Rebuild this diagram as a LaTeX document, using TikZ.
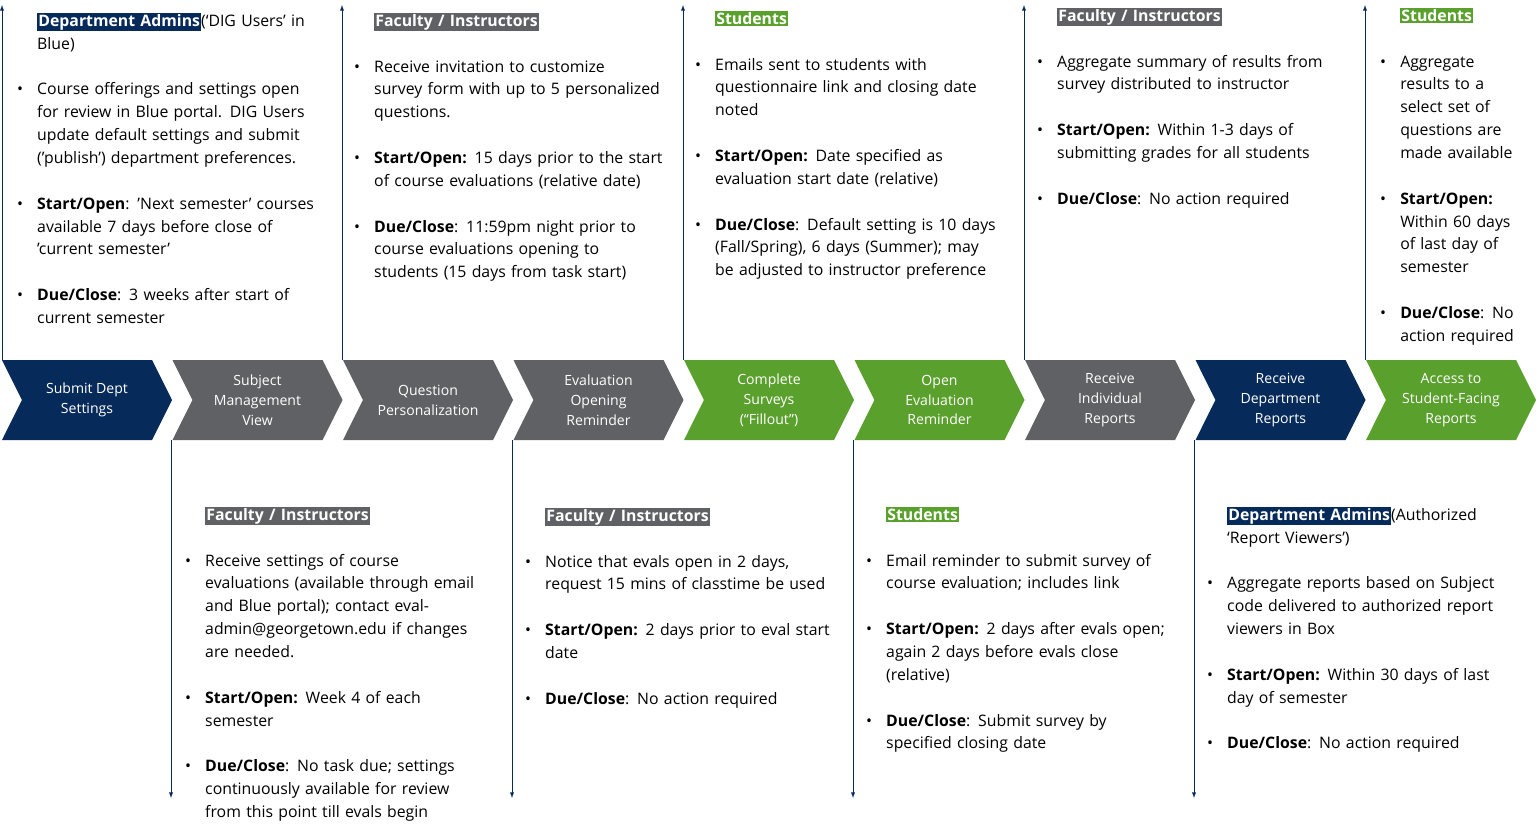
\documentclass[tikz,border=0pt]{standalone}
\usepackage{fontspec}
\setmainfont{Open Sans}
\usepackage{enumitem}
\usetikzlibrary{shapes.symbols}
\definecolor{gnavy}{HTML}{062A5A}
\definecolor{ggray}{HTML}{606164}
\definecolor{ggreen}{HTML}{5AA02C}
\newcommand{\hdr}[2]{{\setlength{\fboxsep}{1pt}\colorbox{#1}{\textcolor{white}{\bfseries #2}}}}
\newcommand{\so}{\textbf{Start/Open:}}
\newcommand{\dc}{\textbf{Due/Close}:}
\newenvironment{blist}{\begin{itemize}[leftmargin=0pt,labelsep=12pt,itemsep=19.5pt,parsep=0pt,topsep=19.5pt]}{\end{itemize}}
\tikzset{
    x=0.03cm, y=-0.03cm,
    chevron/.style={shape=signal, signal to=east, signal from=west, signal pointer angle=127,
        minimum width=170*0.03cm, minimum height=80*0.03cm, inner sep=0pt, text=white,
        align=center, font=\fontsize{12}{17}\selectfont},
    navy chevron/.style={chevron, fill=gnavy},
    gray chevron/.style={chevron, fill=ggray},
    green chevron/.style={chevron, fill=ggreen},
    block/.style={anchor=north west, align=left, text width=320*0.03cm, inner sep=0pt,
        font=\fontsize{13.5}{19.5}\selectfont},
    stem/.style={draw=gnavy, line width=0.7pt, -latex}
}
\begin{document}
\begin{tikzpicture}
    \useasboundingbox (0,0) rectangle (1536,833);
    % chevrons
    \node[navy chevron]  (c1) at (87,400)   {Submit Dept\\Settings};
    \node[gray chevron]  (c2) at (257.5,400) {Subject\\Management\\View};
    \node[gray chevron]  (c3) at (428,400)  {Question\\Personalization};
    \node[gray chevron]  (c4) at (598.5,400) {Evaluation\\Opening\\Reminder};
    \node[green chevron] (c5) at (769,400)  {Complete\\Surveys\\(“Fillout”)};
    \node[green chevron] (c6) at (939.5,400) {Open\\Evaluation\\Reminder};
    \node[gray chevron]  (c7) at (1110,400) {Receive\\Individual\\Reports};
    \node[navy chevron]  (c8) at (1280.5,400) {Receive\\Department\\Reports};
    \node[green chevron] (c9) at (1451,400) {Access to\\Student-Facing\\Reports};

    % stems
    \coordinate (t1) at (2,5);    \draw[stem] (2,360) -- (t1);
    \coordinate (t3) at (342,5);  \draw[stem] (342,360) -- (t3);
    \coordinate (t5) at (683,5);  \draw[stem] (683,360) -- (t5);
    \coordinate (t7) at (1024,5); \draw[stem] (1024,360) -- (t7);
    \coordinate (t9) at (1365,5); \draw[stem] (1365,360) -- (t9);
    \coordinate (b2) at (171,798);  \draw[stem] (171,440) -- (b2);
    \coordinate (b4) at (512,798);  \draw[stem] (512,440) -- (b4);
    \coordinate (b6) at (853,798);  \draw[stem] (853,440) -- (b6);
    \coordinate (b8) at (1194,798); \draw[stem] (1194,440) -- (b8);

    % upper texts
    \node[block] (d1) at (37,13) {\hdr{gnavy}{Department Admins}(‘DIG Users’ in\\Blue)
      \begin{blist}
      \item Course offerings and settings open\\for review in Blue portal. DIG Users\\update default settings and submit\\('publish') department preferences.
      \item \textbf{Start/Open}: 'Next semester' courses\\available 7 days before close of\\'current semester’
      \item \dc{} 3 weeks after start of\\current semester
      \end{blist}};
    \node[block] (d3) at (374,13) {\hdr{ggray}{Faculty / Instructors}
      \begin{blist}
      \item Receive invitation to customize\\survey form with up to 5 personalized\\questions.
      \item \so{} 15 days prior to the start\\of course evaluations (relative date)
      \item \dc{} 11:59pm night prior to\\course evaluations opening to\\students (15 days from task start)
      \end{blist}};
    \node[block] (d5) at (715,11) {\hdr{ggreen}{Students}
      \begin{blist}
      \item Emails sent to students with\\questionnaire link and closing date\\noted
      \item \so{} Date specified as\\evaluation start date (relative)
      \item \dc{} Default setting is 10 days\\(Fall/Spring), 6 days (Summer); may\\be adjusted to instructor preference
      \end{blist}};
    \node[block] (d7) at (1057,8) {\hdr{ggray}{Faculty / Instructors}
      \begin{blist}
      \item Aggregate summary of results from\\survey distributed to instructor
      \item \so{} Within 1-3 days of\\submitting grades for all students
      \item \dc{} No action required
      \end{blist}};
    \node[block] (d9) at (1400,8) {\hdr{ggreen}{Students}
      \begin{blist}
      \item Aggregate\\results to a\\select set of\\questions are\\made available
      \item \so\\Within 60 days\\of last day of\\semester
      \item \dc{} No\\action required
      \end{blist}};

    % lower texts
    \node[block] (d2) at (205,507) {\hdr{ggray}{Faculty / Instructors}
      \begin{blist}
      \item Receive settings of course\\evaluations (available through email\\and Blue portal); contact eval-\\admin@georgetown.edu if changes\\are needed.
      \item \so{} Week 4 of each\\semester
      \item \dc{} No task due; settings\\continuously available for review\\from this point till evals begin
      \end{blist}};
    \node[block] (d4) at (545,508) {\hdr{ggray}{Faculty / Instructors}
      \begin{blist}
      \item Notice that evals open in 2 days,\\request 15 mins of classtime be used
      \item \so{} 2 days prior to eval start\\date
      \item \dc{} No action required
      \end{blist}};
    \node[block] (d6) at (886,507) {\hdr{ggreen}{Students}
      \begin{blist}
      \item Email reminder to submit survey of\\course evaluation; includes link
      \item \so{} 2 days after evals open;\\again 2 days before evals close\\(relative)
      \item \dc{} Submit survey by\\specified closing date
      \end{blist}};
    \node[block] (d8) at (1227,507) {\hdr{gnavy}{Department Admins}(Authorized\\‘Report Viewers’)
      \begin{blist}
      \item Aggregate reports based on Subject\\code delivered to authorized report\\viewers in Box
      \item \so{} Within 30 days of last\\day of semester
      \item \dc{} No action required
      \end{blist}};
\end{tikzpicture}
\end{document}
